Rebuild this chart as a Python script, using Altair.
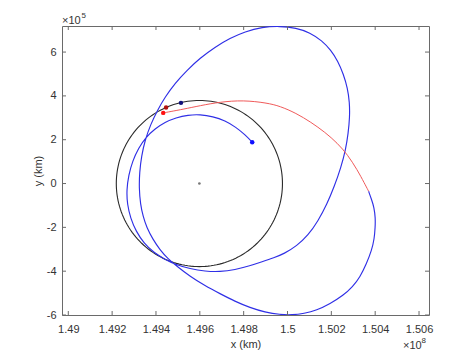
import altair as alt
import pandas as pd

# ---------------- data (x in 1e8 km, y in 1e5 km) ----------------
blue_x = [1.49839, 1.49806, 1.49765, 1.49715, 1.49660, 1.49601, 1.49546, 1.49491, 1.49441, 1.49396,
          1.49354, 1.49320, 1.49293, 1.49275, 1.49266, 1.49269, 1.49284, 1.49309, 1.49345, 1.49391,
          1.49441, 1.49491, 1.49555, 1.49624, 1.49692, 1.49760, 1.49829, 1.49884, 1.49938, 1.49984,
          1.50043, 1.50094, 1.50139, 1.50180, 1.50214, 1.50244, 1.50265, 1.50277, 1.50284, 1.50283,
          1.50274, 1.50255, 1.50230, 1.50198, 1.50157, 1.50103, 1.50039, 1.49966, 1.49884, 1.49806,
          1.49738, 1.49669, 1.49601, 1.49542, 1.49487, 1.49441, 1.49407, 1.49375, 1.49350, 1.49334,
          1.49325, 1.49323, 1.49329, 1.49341, 1.49358, 1.49386, 1.49418, 1.49455, 1.49496, 1.49555,
          1.49624, 1.49692, 1.49760, 1.49829, 1.49897, 1.49966, 1.50021, 1.50075, 1.50133, 1.50194,
          1.50255, 1.50297, 1.50331, 1.50360, 1.50384, 1.50396, 1.50400, 1.50401, 1.50395, 1.50383,
          1.50370]
blue_y = [1.887, 2.229, 2.572, 2.869, 3.061, 3.152, 3.129, 3.006, 2.800, 2.503,
          2.115, 1.613, 1.019, 0.379, -0.306, -0.946, -1.585, -2.179, -2.727, -3.161,
          -3.458, -3.709, -3.892, -4.006, -4.029, -3.938, -3.755, -3.572, -3.389, -3.207,
          -2.841, -2.362, -1.722, -0.946, -0.123, 0.745, 1.521, 2.298, 3.029, 3.714,
          4.353, 4.993, 5.587, 6.089, 6.523, 6.889, 7.103, 7.185, 7.140, 6.934,
          6.637, 6.226, 5.724, 5.176, 4.582, 3.942, 3.348, 2.686, 1.978, 1.247,
          0.516, -0.215, -0.946, -1.494, -2.019, -2.544, -3.024, -3.435, -3.778, -4.235,
          -4.668, -5.025, -5.377, -5.664, -5.870, -5.984, -5.998, -5.934, -5.788, -5.491,
          -5.102, -4.714, -4.267, -3.664, -3.047, -2.522, -1.983, -1.585, -1.083, -0.717,
          -0.352]

red_x = [1.50370, 1.50351, 1.50318, 1.50274, 1.50228, 1.50171, 1.50107, 1.50039, 1.49966, 1.49905,
         1.49798, 1.49692, 1.49601, 1.49525, 1.49464, 1.49433]
red_y = [-0.352, 0.014, 0.630, 1.316, 1.841, 2.343, 2.800, 3.211, 3.531, 3.682,
         3.805, 3.723, 3.554, 3.394, 3.280, 3.225]

earth_x, earth_y = [1.49598], [0.0]
moon_cx, moon_cy, moon_r = 1.49598, 0.0, 3.79   # moon orbit centre and radius

start_x, start_y = [1.49839], [1.887]          # blue start point
moon1_x, moon1_y = [1.49514], [3.682]          # moon position (dark blue)
moon2_x, moon2_y = [1.49446], [3.472]          # moon position (dark red)
end_x, end_y = [1.49433], [3.225]              # red end point

x_ticks = [1.49, 1.492, 1.494, 1.496, 1.498, 1.5, 1.502, 1.504, 1.506]
y_ticks = [-6, -4, -2, 0, 2, 4, 6]
x_title, y_title = "x (km)", "y (km)"
mult_base = "×10"
x_exp, y_exp = "8", "5"

X_DOMAIN = [1.489713, 1.506455]
Y_DOMAIN = [-6.0, 7.19]

# ---------------- style ----------------
W, H = 367, 289
FONT = "Liberation Sans"
TXT = "#333333"
FRAME = "#6a6a6a"
BLUE = "#2f2fe6"
RED = "#f05a5a"

xs = alt.Scale(domain=X_DOMAIN, nice=False, zero=False)
ys = alt.Scale(domain=Y_DOMAIN, nice=False, zero=False)

common_axis = dict(domain=False, ticks=False, tickSize=0, grid=False,
                   labelFont=FONT, labelFontSize=11, labelColor=TXT,
                   titleFont=FONT, titleFontSize=11, titleFontWeight="normal",
                   titleColor=TXT, labelOverlap=False, labelExpr="datum.value + ''")
x_axis = alt.Axis(values=x_ticks, title=x_title, labelPadding=8, titlePadding=4, **common_axis)
y_axis = alt.Axis(values=y_ticks, title=y_title, labelPadding=6, titlePadding=3, **common_axis)


def X():
    return alt.X("x:Q", scale=xs, axis=x_axis)


def Y():
    return alt.Y("y:Q", scale=ys, axis=y_axis)


moon_orbit = alt.Chart(alt.sequence(0, 362, 2, as_="deg")).transform_calculate(
    x=f"{moon_cx} + {moon_r} / 1000 * cos(datum.deg * PI / 180)",
    y=f"{moon_cy} + {moon_r} * sin(datum.deg * PI / 180)",
).mark_line(color="#2a2a2a", strokeWidth=1.1).encode(x=X(), y=Y(), order="deg:Q")

blue_df = pd.DataFrame({"x": blue_x, "y": blue_y, "i": list(range(len(blue_x)))})
red_df = pd.DataFrame({"x": red_x, "y": red_y, "i": list(range(len(red_x)))})

blue_line = alt.Chart(blue_df).mark_line(
    color=BLUE, strokeWidth=1.15, interpolate="basis", clip=True
).encode(x=X(), y=Y(), order="i:Q")

red_line = alt.Chart(red_df).mark_line(
    color=RED, strokeWidth=1.0, interpolate="basis", clip=True
).encode(x=X(), y=Y(), order="i:Q")


def dot(xv, yv, color, size):
    return alt.Chart(pd.DataFrame({"x": xv, "y": yv})).mark_circle(
        color=color, size=size, opacity=1
    ).encode(x=X(), y=Y())


dots = [
    dot(earth_x, earth_y, "#777777", 7),
    dot(start_x, start_y, "#1010ff", 20),
    dot(moon1_x, moon1_y, "#10107a", 20),
    dot(moon2_x, moon2_y, "#b01010", 20),
    dot(end_x, end_y, "#ff1010", 20),
]

TL = 4
xt_df = pd.DataFrame({"x": x_ticks})
yt_df = pd.DataFrame({"y": y_ticks})
ticks = [
    alt.Chart(xt_df).mark_rule(color=FRAME, strokeWidth=1).encode(x=X(), y=alt.value(H), y2=alt.value(H - TL)),
    alt.Chart(xt_df).mark_rule(color=FRAME, strokeWidth=1).encode(x=X(), y=alt.value(0), y2=alt.value(TL)),
    alt.Chart(yt_df).mark_rule(color=FRAME, strokeWidth=1).encode(y=Y(), x=alt.value(0), x2=alt.value(TL)),
    alt.Chart(yt_df).mark_rule(color=FRAME, strokeWidth=1).encode(y=Y(), x=alt.value(W), x2=alt.value(W - TL)),
]


def label(txt, px, py, size):
    return alt.Chart(pd.DataFrame({"t": [txt]})).mark_text(
        align="left", baseline="middle", font=FONT, fontSize=size, color=TXT
    ).encode(text="t:N", x=alt.value(px), y=alt.value(py))


texts = [
    label(mult_base, 0, -5.5, 11),
    label(y_exp, 19.5, -10.5, 8),
    label(mult_base, 341, 320, 11),
    label(x_exp, 359.5, 314.5, 8),
]

chart = alt.layer(moon_orbit, blue_line, red_line, *dots, *ticks, *texts).properties(
    width=W, height=H,
    autosize=alt.AutoSizeParams(type="none"),
    padding={"left": 54, "top": 18, "right": 37, "bottom": 38},
).configure_view(stroke=FRAME, strokeWidth=1)

chart.save("out.html", embed_options={"renderer": "svg", "actions": False})
